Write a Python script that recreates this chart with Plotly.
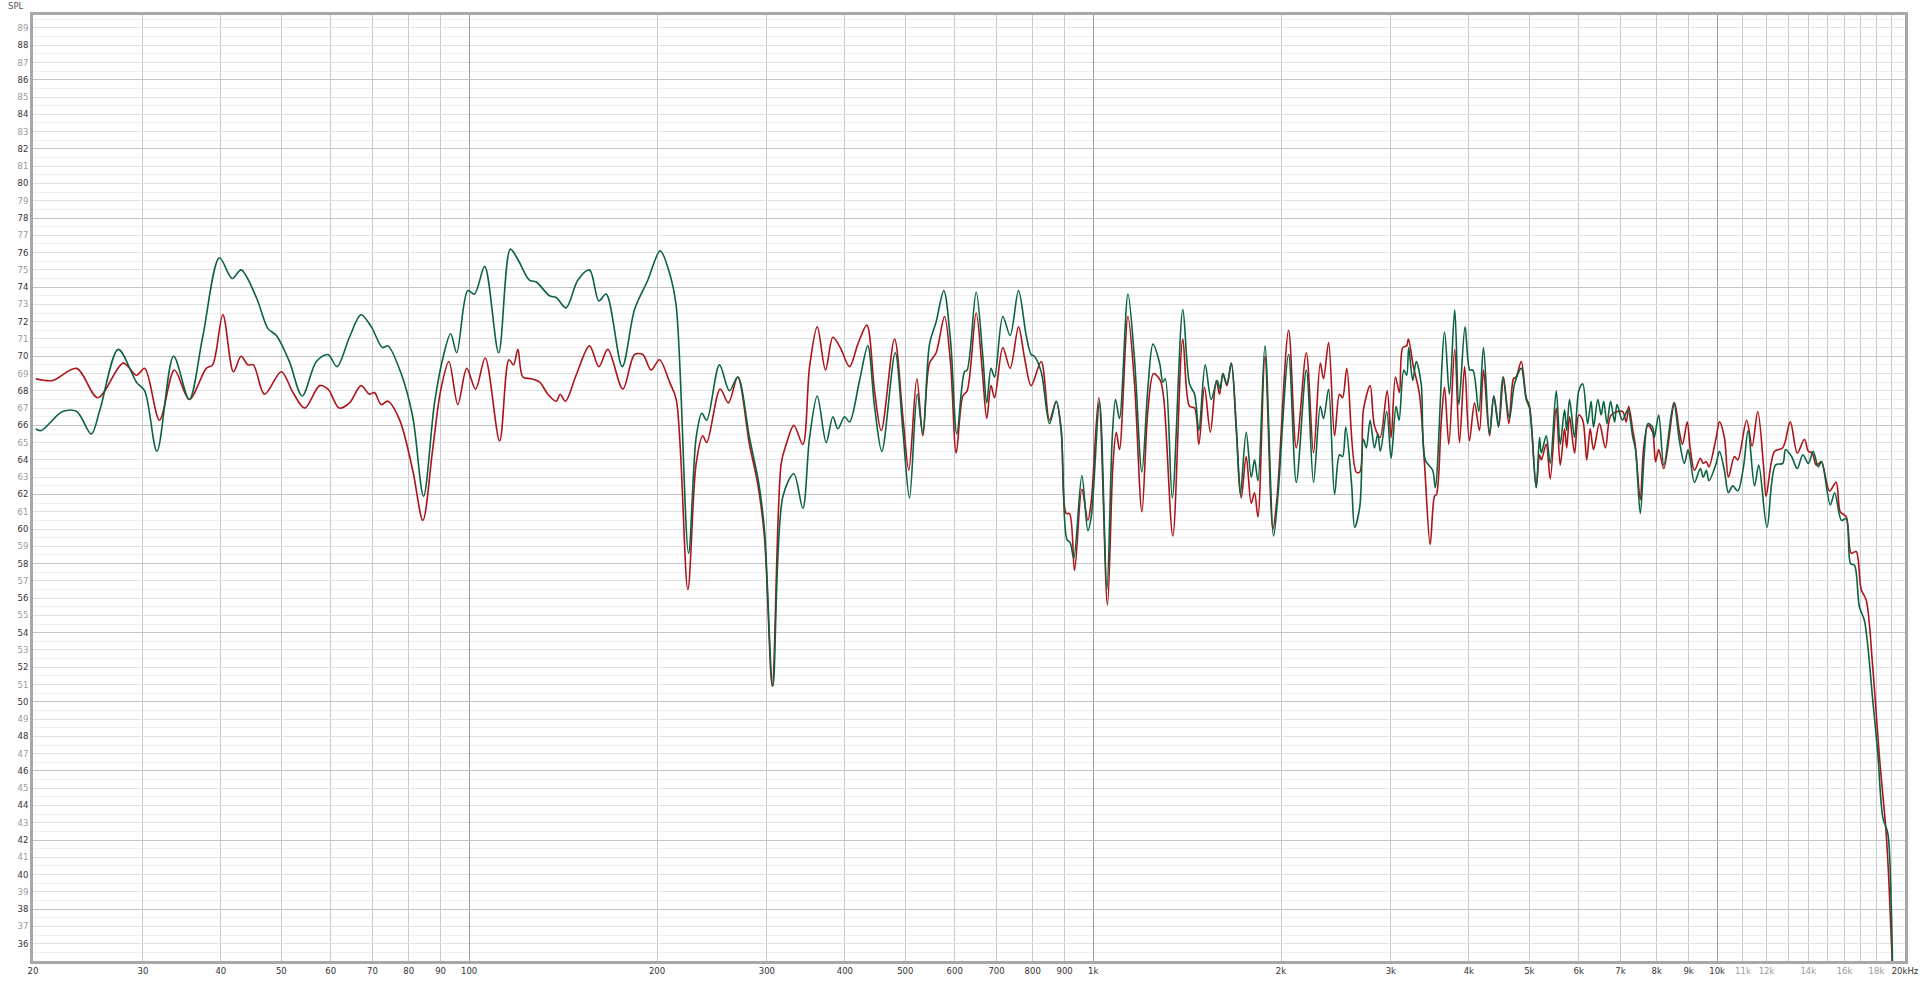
import math
import plotly.graph_objects as go

# measurement 1 (red)
red_hz = [20.2, 21.5, 23.5, 25.4, 27.9, 29.3, 30.2, 31.9, 33.7, 35.6, 37.9, 38.8, 40.3, 41.9, 43.1, 44.2, 45.1,
          47.0, 50.0, 52.2, 54.5, 57.6, 59.4, 61.9,
          64.3, 67.1, 69.2, 70.5, 72.3, 74.1, 77.4, 81.2, 84.3, 87.4, 90.0, 92.8, 95.9, 99.1, 102.4, 106.1,
          111.9, 115.8, 117.8, 119.7, 121.9, 125.7, 129.7, 133.7, 137.9, 139.9, 142.7, 148.4, 155.9, 161.4,
          166.8, 176.3, 184.1, 189.8, 195.7, 201.8,
          209.5, 214.7, 224.1, 231.1, 236.8, 240.3, 252.5, 260.3, 269.4, 281.3, 290.1, 297.4, 306.0, 316.3,
          322.2, 331.4, 342.6, 351.2, 361.3, 372.5, 382.7, 393.3, 407.0, 419.7, 433.8, 446.3, 457.5, 480.5,
          495.5, 506.5, 521.7, 533.4, 546.7, 560.3, 577.8, 590.8, 603.3, 618.2, 628.2, 649.4, 664.1, 675.3,
          686, 695, 716.5, 736.2, 759.2, 776.3, 795.6, 825.5, 851.2, 872.6, 888.8, 905.4, 916.6, 933.6,
          959.2, 980.7, 993.0, 1021, 1054, 1076, 1089, 1102, 1137, 1165, 1197, 1224, 1250, 1281, 1298,
          1342, 1392, 1427, 1454, 1477, 1508, 1541, 1575, 1594, 1614, 1638, 1665, 1696, 1727, 1759, 1792,
          1814, 1837, 1885, 1941, 1970, 2057, 2116, 2196,
          2255, 2312, 2340, 2384, 2437, 2482, 2510, 2550, 2639, 2675, 2711, 2779, 2823, 2883, 2959, 3003,
          3051, 3096, 3134, 3180, 3200, 3260, 3334, 3396, 3468, 3524, 3550, 3611, 3657, 3715, 3797, 3864,
          3938, 4007, 4085, 4160, 4222, 4317, 4386, 4468, 4546, 4636, 4717, 4763, 4853, 4943, 5004, 5128,
          5192, 5227, 5322, 5401, 5522, 5604, 5694, 5740, 5800, 5908, 6002, 6090, 6180, 6259, 6336, 6477,
          6622, 6764,
          7050, 7150, 7215, 7326, 7390, 7530, 7620, 7745, 7880, 7966, 8060, 8214, 8544, 8700, 8800, 8954,
          9050, 9197, 9400, 9497, 9610, 9700, 9965, 10085, 10270, 10424, 10658, 10790, 11150, 11376, 11616,
          11870, 11980, 12360, 12740, 13098, 13440, 13800, 14000, 14200, 14410, 14560, 14700, 15140, 15513,
          15750, 16100, 16400, 16700, 17013, 17330, 17756, 18200, 18657, 18840, 19107]
red_db = [68.7, 68.6, 69.3, 67.6, 69.6, 68.9, 69.3, 66.3, 69.2, 67.5, 69.3, 69.5, 72.4, 69.1, 70.0, 69.5, 69.5,
          67.8, 69.1, 67.9, 67.0, 68.3, 68.1, 67.0,
          67.3, 68.3, 67.8, 67.9, 67.2, 67.4, 66.3, 63.4, 60.5, 64.6, 68.0, 69.7, 67.2, 69.3, 68.1, 69.9,
          65.1, 69.8, 69.5, 70.4, 68.8, 68.7, 68.5, 67.8, 67.4, 67.8, 67.4, 68.9, 70.6, 69.4,
          70.4, 68.1, 70.1, 70.1, 69.2, 69.8,
          68.5, 67.5, 56.5, 63.8, 65.4, 65.0, 68.1, 67.3, 68.8, 64.9, 62.6, 59.5, 50.9, 63.8,
          64.9, 66.0, 64.9, 69.4, 71.7, 69.2, 71.1, 70.5, 69.4, 70.7, 71.8, 68.0, 65.7, 71.0,
          66.5, 63.4, 68.7, 65.4, 69.6, 70.2, 72.3, 69.6, 64.4, 67.7, 68.0, 72.5, 69.2, 66.4,
          68.3, 67.6, 70.5, 69.3, 71.7, 69.9, 68.3, 69.7, 66.3, 67.4, 65.7, 60.9, 60.9, 57.6,
          62.3, 60.5, 61.6, 67.6, 55.6, 63.8, 65.6, 64.6, 72.3, 68.4, 61.0, 66.9, 69.0, 68.6, 67.5,
          59.6, 71.0, 67.1, 67.0, 64.9, 68.2, 65.6, 68.6, 67.8, 69.0, 68.3, 69.6, 65.7, 61.8, 64.2, 61.5,
          62.1, 60.7, 70.0, 60.0, 61.7, 71.5, 64.7, 70.2,
          64.4, 69.6, 68.7, 70.8, 65.4, 67.8, 67.6, 69.3, 63.3, 63.3, 66.9, 68.3, 66.0, 65.3, 68.0, 65.3,
          68.8, 67.9, 70.5, 70.6, 71.0, 69.4, 67.8, 63.8, 59.1, 61.9, 62.0, 66.1, 68.2, 64.9, 70.4, 65.0,
          69.4, 65.1, 67.3, 65.7, 69.2, 65.4, 67.7, 66.0, 68.8, 66.1, 68.7, 68.8, 69.7, 67.6, 67.1, 62.4,
          64.3, 64.0, 64.9, 62.9, 67.0, 63.7, 65.8, 64.7, 66.5, 64.4, 66.6, 66.3, 64.0, 65.8, 64.6, 66.1,
          64.7, 66.6,
          66.8, 66.2, 67.1, 65.7, 64.9, 61.7, 64.6, 66.0, 65.6, 63.9, 64.6, 63.5, 67.3, 65.6, 64.9, 66.2,
          64.7, 63.4, 64.1, 63.8, 63.9, 63.6, 65.3, 66.2, 65.3, 63.0, 64.2, 64.0, 66.3, 64.8, 66.8,
          63.6, 61.9, 64.5, 64.7, 66.2, 64.4, 65.2, 64.5, 64.4, 63.7, 63.8, 63.9, 62.2, 62.7,
          61.0, 60.7, 58.6, 58.7, 56.5, 55.9, 52.0, 46.8, 42.4, 39.7, 34.4]

# measurement 2 (green)
green_hz = [20.2, 20.6, 22.3, 23.5, 24.8, 25.6, 27.4, 29.3, 30.2, 31.6, 33.6, 35.6, 37.4, 39.8, 41.7, 43.1,
            45.6, 47.6, 49.1, 51.5, 54.0, 56.9, 59.4, 61.4,
            64.3, 67.1, 69.7, 72.6, 74.1, 77.8, 81.2, 84.5, 88.0, 90.9, 93.4, 95.5, 99.5, 102.0, 105.9,
            111.5, 116.4, 119.7, 124.9, 128.1, 134.5, 137.9, 143.0, 149.3, 155.9, 161.4, 165.8, 175.9,
            184.1, 193.3, 202.4,
            209.5, 214.7, 224.7, 231.1, 236.0, 240.3, 251.8, 261.3, 269.4, 281.3, 291.3, 297.4, 306.7,
            318.3, 331.4, 342.6, 351.2, 361.3, 373.4, 382.7, 389.9, 399.6, 407.0, 422.3, 435.4, 446.3,
            458.5, 481.7, 495.5, 507.8, 522.5, 533.4, 546.7, 560.3, 576.3, 590.8, 604.7, 622.0, 628.2,
            649.4, 665.5, 675.3,
            686, 695, 716.5, 736.2, 759.2, 781.1, 795.6, 805, 825.5, 851.2, 872.6, 888.8, 907.6, 918.9,
            931.1, 959.2, 980.7, 993.0, 1024, 1052, 1073, 1086, 1102, 1137, 1165, 1197, 1224, 1247, 1278,
            1293, 1305, 1339, 1392, 1427, 1454, 1477, 1512, 1546, 1580, 1598, 1614, 1638, 1665, 1696,
            1721, 1759, 1792, 1814, 1837, 1885, 1946, 1977, 2057, 2116, 2196,
            2255, 2312, 2340, 2384, 2437, 2482, 2510, 2540, 2595, 2625, 2675, 2711, 2740, 2779, 2823, 2859,
            2886, 2955, 3003, 3058, 3092, 3146, 3180, 3204, 3252, 3294, 3355, 3406, 3500, 3535, 3657, 3723,
            3797, 3855, 3945, 4015, 4060, 4150, 4222, 4317, 4386, 4463, 4535, 4646, 4735, 4853, 4943, 5004,
            5128, 5192, 5227, 5322, 5401, 5522, 5604, 5694, 5740, 5800, 5908, 6002, 6090, 6200, 6280, 6336,
            6438, 6517, 6580, 6660, 6748, 6850, 6910,
            7050, 7190, 7326, 7400, 7530, 7650, 7745, 7880, 7930, 8060, 8214, 8520, 8700, 8860, 8980, 9050,
            9197, 9400, 9497, 9610, 9700, 9965, 10085, 10270, 10424, 10590, 10790, 11020, 11210, 11480,
            11660, 12020, 12400, 12740, 12870, 13160, 13440, 13720, 14000, 14250, 14520, 14700, 15180,
            15430, 15820, 16100, 16360, 16600, 16900, 17220, 17756, 18090, 18430, 18770, 19000, 19107]
green_db = [65.8, 65.7, 66.8, 66.8, 65.5, 66.9, 70.4, 68.5, 68.0, 64.5, 70.0, 67.5, 71.1, 75.7, 74.5, 75.0,
            73.4, 71.6, 71.2, 69.7, 67.7, 69.7, 70.1, 69.4,
            71.1, 72.4, 71.7, 70.5, 70.6, 69.0, 66.5, 61.9, 67.3, 70.0, 71.3, 70.2, 73.8, 73.6, 75.2,
            70.2, 76.2, 75.6, 74.4, 74.3, 73.5, 73.4, 72.8, 74.4, 75.0, 73.2, 73.6, 69.4,
            72.7, 74.4, 76.1,
            74.8, 72.9, 58.6, 65.3, 66.7, 66.3, 69.5, 68.0, 68.8, 65.3, 62.6, 59.9, 50.9,
            61.9, 63.2, 61.2, 65.3, 67.7, 65.0, 66.5, 65.8, 66.5, 66.2, 68.6, 70.6, 67.1,
            64.5, 70.2, 65.7, 61.8, 67.8, 65.5, 70.7, 72.0, 73.8, 70.9, 65.5, 69.1, 69.2,
            73.7, 70.0, 67.3,
            69.3, 68.8, 72.3, 71.2, 73.8, 71.2, 70.1, 70.0, 69.1, 66.1, 67.4, 65.7, 59.4, 59.2,
            58.3, 63.1, 59.9, 60.7, 67.4, 56.5, 65.3, 67.5, 66.4, 73.6, 69.8, 63.3, 68.2, 70.7, 69.6,
            68.5, 68.7, 61.8, 72.7, 68.4, 67.8, 65.7, 69.5, 67.5, 68.6, 68.1, 69.0, 68.4, 69.6, 65.9,
            62.0, 65.6, 63.0, 64.0, 62.8, 70.6, 59.6, 61.9, 70.1, 62.7, 69.2,
            62.7, 67.1, 66.4, 68.1, 62.0, 64.3, 64.2, 65.9, 62.6, 60.1, 61.3, 65.2, 64.7, 66.3, 64.7, 65.5,
            64.5, 66.8, 64.1, 67.1, 66.3, 69.2, 68.9, 70.5, 68.6, 69.7, 68.4, 64.0, 63.4, 62.4, 71.4, 67.8,
            72.7, 67.2, 71.7, 69.2, 69.2, 66.8, 70.5, 65.5, 67.7, 65.9, 68.8, 66.4, 68.4, 69.3, 67.5, 67.0,
            62.4, 65.3, 64.4, 65.4, 63.8, 68.0, 64.9, 66.9, 65.7, 67.5, 65.3, 68.0, 68.4, 66.1, 67.4, 65.9,
            67.5, 66.6, 67.4, 66.1, 67.4, 66.2, 67.2,
            66.3, 66.9, 65.3, 64.6, 60.9, 64.6, 66.1, 65.9, 65.3, 66.6, 63.7, 67.3, 65.1, 63.8, 64.6, 64.1,
            62.7, 63.5, 63.0, 63.4, 62.8, 63.8, 64.5, 63.4, 62.1, 62.5, 62.2, 63.6, 65.7, 62.5,
            63.7, 60.1, 63.7, 63.8, 64.6, 64.2, 63.5, 64.3, 63.8, 64.5, 63.6, 63.9, 61.4,
            62.1, 60.5, 60.6, 58.0, 57.9, 55.5, 54.7, 50.1, 47.0, 43.3, 42.4, 38.5, 34.4]

# frequency axis labels
x_tick_hz = [20, 30, 40, 50, 60, 70, 80, 90, 100, 200, 300, 400, 500, 600, 700, 800, 900,
             1000, 2000, 3000, 4000, 5000, 6000, 7000, 8000, 9000, 10000, 11000, 12000, 13000,
             14000, 15000, 16000, 17000, 18000, 19000, 20000]
x_tick_text = ["20", "30", "40", "50", "60", "70", "80", "90", "100", "200", "300", "400", "500",
               "600", "700", "800", "900", "1k", "2k", "3k", "4k", "5k", "6k", "7k", "8k", "9k", "10k",
               "11k", "12k", "", "14k", "", "16k", "", "18k", "", "20kHz"]
x_faint_labels = ["11k", "12k", "14k", "16k", "18k"]
x_decades = [100, 1000, 10000]
y_ticks = list(range(36, 90))
y_half = [v + 0.5 for v in range(35, 90)]
y_major = list(range(38, 90, 4))

dark = "#333333"
faint = "#9a9a9a"
xt_text = [f"<span style='color:{faint}'>{t}</span>" if t in x_faint_labels else t for t in x_tick_text]
yt_text = [str(v) if v % 2 == 0 else f"<span style='color:{faint}'>{v}</span>" for v in y_ticks]

fig = go.Figure()
fig.add_trace(go.Scatter(x=red_hz, y=red_db, mode="lines",
                         line=dict(color="#ad1419", width=1.6, shape="spline", smoothing=0.9),
                         hoverinfo="skip", showlegend=False))
fig.add_trace(go.Scatter(x=green_hz, y=green_db, mode="lines", xaxis="x2", yaxis="y2",
                         line=dict(color="#0c6340", width=1.6, shape="spline", smoothing=0.9),
                         hoverinfo="skip", showlegend=False))

xr = [math.log10(20), math.log10(20000)]
yr = [35, 89.75]
font = dict(family="DejaVu Sans, Verdana, sans-serif", size=8.5, color=dark)

fig.update_layout(
    width=1920, height=981,
    margin=dict(l=33, r=15, t=15, b=20, autoexpand=False),
    paper_bgcolor="white", plot_bgcolor="white",
    font=font,
    xaxis=dict(type="log", range=xr, tickmode="array", tickvals=x_tick_hz, ticktext=xt_text,
               showgrid=True, gridcolor="#cbcbcb", gridwidth=1, zeroline=False, automargin=False,
               showline=True, mirror=True, linecolor="#a8a8a8", linewidth=3,
               ticks="", tickfont=font),
    yaxis=dict(range=yr, tickmode="array", tickvals=y_ticks, ticktext=yt_text,
               showgrid=True, gridcolor="#e0e0e0", gridwidth=1, zeroline=False, automargin=False,
               showline=True, mirror=True, linecolor="#a8a8a8", linewidth=3,
               ticks="", tickfont=font,
               minor=dict(tickvals=y_half, showgrid=True, gridcolor="#efefef", ticks="")),
    xaxis2=dict(type="log", range=xr, overlaying="x", tickmode="array", tickvals=x_decades, automargin=False,
                showticklabels=False, showgrid=True, gridcolor="#9c9c9c", zeroline=False, ticks=""),
    yaxis2=dict(range=yr, overlaying="y", tickmode="array", tickvals=y_major, automargin=False,
                showticklabels=False, showgrid=True, gridcolor="#c4c4c4", zeroline=False, ticks=""),
    annotations=[dict(text="SPL", x=0, y=1, xref="paper", yref="paper", xanchor="right", yanchor="bottom",
                      xshift=-7, yshift=2, showarrow=False, font=dict(family=font["family"], size=8.5,
                                                                       color="#555555"))],
)

fig.write_html("out.html", config={"displayModeBar": False},
               post_script="document.body.style.margin='0';document.body.style.overflow='hidden';")
